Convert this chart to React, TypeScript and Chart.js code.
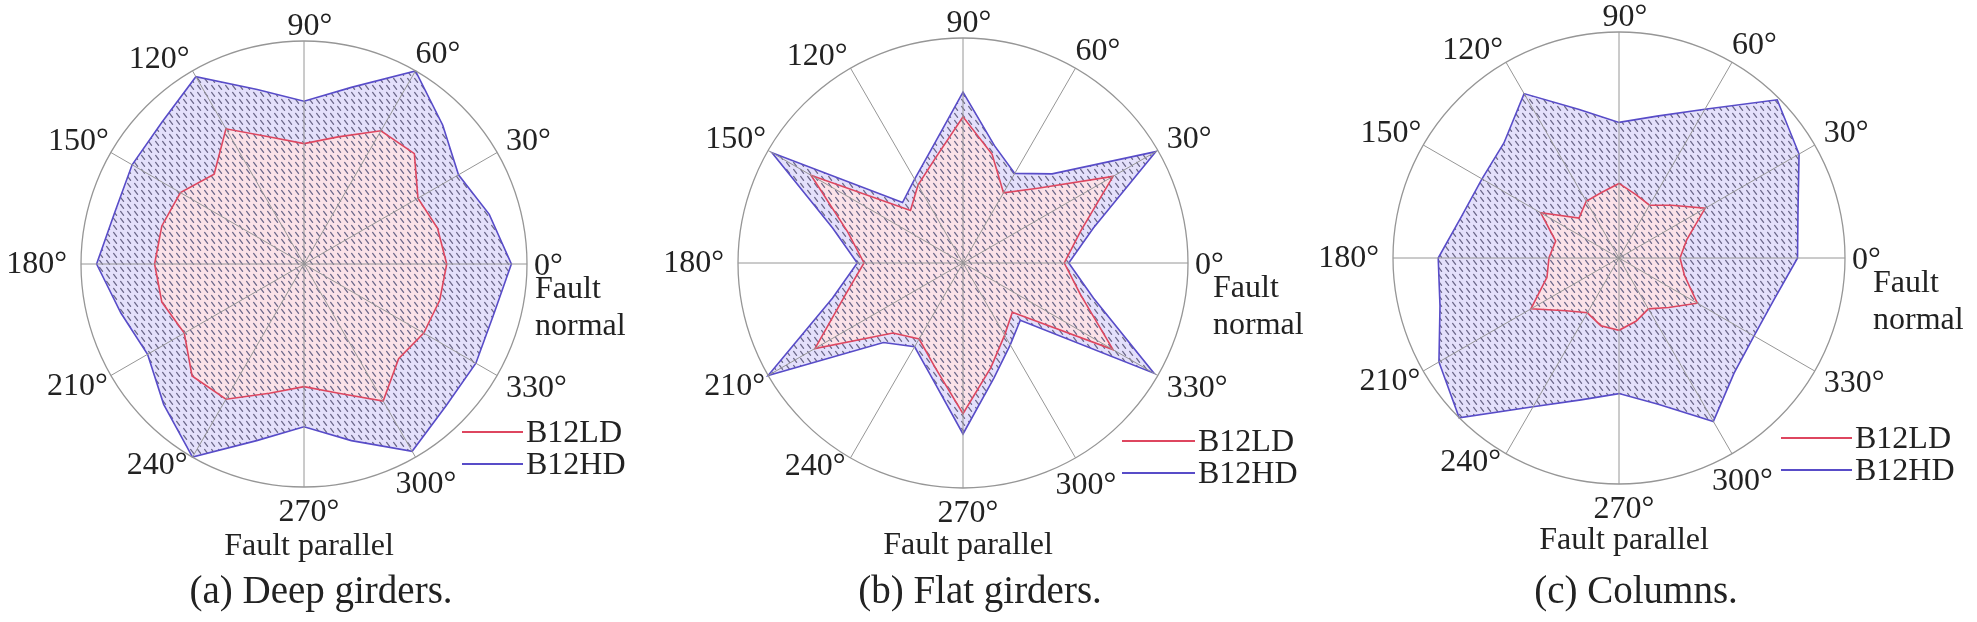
import React, { useEffect, useRef } from "react";
import { Chart, registerables } from "chart.js";

Chart.register(...registerables);

// ---------- data (values normalised to the outer circle = 1) ----------
// directions in degrees, counter-clockwise from "Fault normal" (0°)
const ANGLES = [0, 15, 30, 45, 60, 75, 90, 105, 120, 135, 150, 165, 180, 195, 210, 225, 240, 255, 270, 285, 300, 315, 330, 345];
const MAJOR_ANGLES = [0, 30, 60, 90, 120, 150, 180, 210, 240, 270, 300, 330];
const MAJOR_LABELS = ["0°", "30°", "60°", "90°", "120°", "150°", "180°", "210°", "240°", "270°", "300°", "330°"];
const SERIES_NAMES = ["B12LD", "B12HD"];
const PANEL_TITLES = ["(a) Deep girders.", "(b) Flat girders.", "(c) Columns."];
const NORMAL_TEXT = ["Fault", "normal"];
const PARALLEL_TEXT = "Fault parallel";

const DEEP_LD = [0.64, 0.62, 0.59, 0.70, 0.69, 0.59, 0.54, 0.59, 0.70, 0.57, 0.64, 0.66, 0.67, 0.66, 0.62, 0.71, 0.70, 0.60, 0.55, 0.60, 0.71, 0.60, 0.62, 0.63];
const DEEP_HD = [0.93, 0.86, 0.80, 0.88, 1.0, 0.82, 0.73, 0.81, 0.97, 0.90, 0.89, 0.88, 0.93, 0.85, 0.81, 0.89, 1.0, 0.82, 0.73, 0.82, 0.97, 0.90, 0.89, 0.88];

const FLAT_LD = [0.45, 0.54, 0.77, 0.47, 0.36, 0.50, 0.65, 0.48, 0.40, 0.33, 0.78, 0.53, 0.44, 0.54, 0.76, 0.44, 0.39, 0.48, 0.67, 0.48, 0.37, 0.31, 0.77, 0.54];
const FLAT_HD = [0.47, 0.60, 0.99, 0.56, 0.46, 0.54, 0.76, 0.53, 0.43, 0.38, 0.98, 0.60, 0.47, 0.60, 1.0, 0.50, 0.43, 0.53, 0.76, 0.53, 0.42, 0.36, 0.98, 0.60];

const COL_LD = [0.27, 0.31, 0.44, 0.33, 0.27, 0.29, 0.33, 0.30, 0.29, 0.25, 0.40, 0.29, 0.31, 0.33, 0.45, 0.33, 0.28, 0.31, 0.32, 0.29, 0.26, 0.31, 0.40, 0.30];
const COL_HD = [0.79, 0.82, 0.92, 0.99, 0.76, 0.65, 0.60, 0.68, 0.84, 0.72, 0.70, 0.72, 0.80, 0.82, 0.92, 1.0, 0.76, 0.65, 0.60, 0.67, 0.835, 0.72, 0.69, 0.71];

// ---------- styles ----------
const FONT = '"Liberation Serif", "Times New Roman", serif';
const TEXT_COLOR = "#222222";
const RED = "rgb(222, 70, 95)";
const BLUE = "rgb(88, 76, 200)";
const GRID = "rgb(150, 150, 150)";
const CANVAS_W = 659;
const CANVAS_H = 622;

// label placement relative to the circle point of each major angle
const LABEL_LAYOUT: [CanvasTextAlign, number, number][] = [
  ["left", 7, 11],
  ["left", 9, -3],
  ["left", 0, -8],
  ["center", 6, -6],
  ["right", -3, -3],
  ["right", -2, -3],
  ["right", -14, 9],
  ["right", -3, 19],
  ["right", -5, 17],
  ["center", 5, 34],
  ["left", -20, 36],
  ["left", 9, 21],
];

const PANELS = [
  {
    left: 0, padding: { left: 81, top: 41, right: 132, bottom: 135 }, ld: DEEP_LD, hd: DEEP_HD, title: PANEL_TITLES[0],
    normalDx: 231, legend: { x0: 158, x1: 219, y0: 168 },
  },
  {
    left: 659, padding: { left: 79, top: 38, right: 130, bottom: 134 }, ld: FLAT_LD, hd: FLAT_HD, title: PANEL_TITLES[1],
    normalDx: 250, legend: { x0: 159, x1: 232, y0: 178 },
  },
  {
    left: 1318, padding: { left: 75, top: 32, right: 132, bottom: 138 }, ld: COL_LD, hd: COL_HD, title: PANEL_TITLES[2],
    normalDx: 254, legend: { x0: 162, x1: 233, y0: 180 },
  },
];

// chart.js radar goes clockwise from startAngle; map CCW math angles onto it
const displayIndexOf = (angle: number) => ((360 - angle) % 360) / 15;
const DISPLAY_LABELS = ANGLES.map((_, i) => `${(360 - i * 15) % 360}°`);
const toDisplay = (values: number[]) => ANGLES.map((_, i) => values[(ANGLES.length - i) % ANGLES.length]);

function makePattern(bg: string, dash: string): CanvasPattern | string {
  const c = document.createElement("canvas");
  c.width = 7;
  c.height = 7;
  const g = c.getContext("2d");
  if (!g) return bg;
  g.fillStyle = bg;
  g.fillRect(0, 0, 7, 7);
  g.strokeStyle = dash;
  g.lineWidth = 1.3;
  g.lineCap = "round";
  g.beginPath();
  g.moveTo(1.6, 1.4);
  g.lineTo(4.6, 5.3);
  g.stroke();
  return g.createPattern(c, "repeat") || bg;
}

type Panel = (typeof PANELS)[number];

function textPlugin(panel: Panel) {
  return {
    id: "polarText",
    afterDraw(chart: any) {
      const r = chart.scales.r;
      const ctx: CanvasRenderingContext2D = chart.ctx;
      const cx = r.xCenter;
      const cy = r.yCenter;
      ctx.save();
      ctx.fillStyle = TEXT_COLOR;
      ctx.textBaseline = "alphabetic";
      ctx.font = `32px ${FONT}`;
      MAJOR_ANGLES.forEach((a, k) => {
        const p = r.getPointPosition(displayIndexOf(a), r.drawingArea);
        const [align, dx, dy] = LABEL_LAYOUT[k];
        ctx.textAlign = align;
        ctx.fillText(MAJOR_LABELS[k], p.x + dx, p.y + dy);
      });
      ctx.textAlign = "left";
      ctx.fillText(NORMAL_TEXT[0], cx + panel.normalDx, cy + 34);
      ctx.fillText(NORMAL_TEXT[1], cx + panel.normalDx, cy + 71);
      ctx.textAlign = "center";
      ctx.fillText(PARALLEL_TEXT, cx + 5, cy + 291);

      // legend
      const colors = [RED, BLUE];
      SERIES_NAMES.forEach((name, i) => {
        const y = cy + panel.legend.y0 + i * 32;
        ctx.strokeStyle = colors[i];
        ctx.lineWidth = 2;
        ctx.beginPath();
        ctx.moveTo(cx + panel.legend.x0, y);
        ctx.lineTo(cx + panel.legend.x1, y);
        ctx.stroke();
        ctx.textAlign = "left";
        ctx.fillText(name, cx + panel.legend.x1 + 3, y + 10);
      });

      // panel caption
      ctx.font = `39px ${FONT}`;
      ctx.textAlign = "center";
      ctx.fillText(panel.title, cx + 17, 603);
      ctx.restore();
    },
  };
}

function PolarPanel({ panel }: { panel: Panel }) {
  const ref = useRef<HTMLCanvasElement>(null);
  useEffect(() => {
    if (!ref.current) return;
    const dash = "rgb(108, 104, 138)";
    const bluePattern = makePattern("rgb(228, 224, 251)", dash);
    const redPattern = makePattern("rgb(251, 226, 232)", dash);
    const chart = new Chart(ref.current, {
      type: "radar",
      data: {
        labels: DISPLAY_LABELS,
        datasets: [
          {
            label: SERIES_NAMES[0],
            data: toDisplay(panel.ld),
            borderColor: RED,
            borderWidth: 1.6,
            backgroundColor: redPattern as any,
            fill: true,
            pointRadius: 0,
            pointHoverRadius: 0,
            tension: 0,
          },
          {
            label: SERIES_NAMES[1],
            data: toDisplay(panel.hd),
            borderColor: BLUE,
            borderWidth: 1.6,
            backgroundColor: bluePattern as any,
            fill: true,
            pointRadius: 0,
            pointHoverRadius: 0,
            tension: 0,
          },
        ],
      },
      options: {
        animation: false,
        responsive: false,
        maintainAspectRatio: false,
        layout: { padding: panel.padding },
        plugins: {
          legend: { display: false },
          tooltip: { enabled: false },
          title: { display: false },
        },
        elements: { line: { borderJoinStyle: "miter" } },
        scales: {
          r: {
            min: 0,
            max: 1,
            startAngle: 90,
            ticks: { display: false, stepSize: 1 },
            grid: { circular: true, color: GRID, lineWidth: 1.3, z: 1 } as any,
            angleLines: {
              display: true,
              color: (c: any) => (c.index % 2 === 0 ? GRID : "rgba(0,0,0,0)"),
              lineWidth: (c: any) => (c.index % 2 === 0 ? 1 : 0),
            },
            pointLabels: { display: false },
          },
        },
      },
      plugins: [textPlugin(panel)],
    });
    return () => chart.destroy();
  }, [panel]);
  return (
    <canvas
      ref={ref}
      width={CANVAS_W}
      height={CANVAS_H}
      style={{ position: "absolute", left: panel.left, top: 0, width: CANVAS_W, height: CANVAS_H }}
    />
  );
}

export default function App() {
  return (
    <div style={{ position: "absolute", left: 0, top: 0, width: 1977, height: 622, background: "#ffffff", overflow: "hidden" }}>
      {PANELS.map((p, i) => (
        <PolarPanel key={i} panel={p} />
      ))}
    </div>
  );
}
